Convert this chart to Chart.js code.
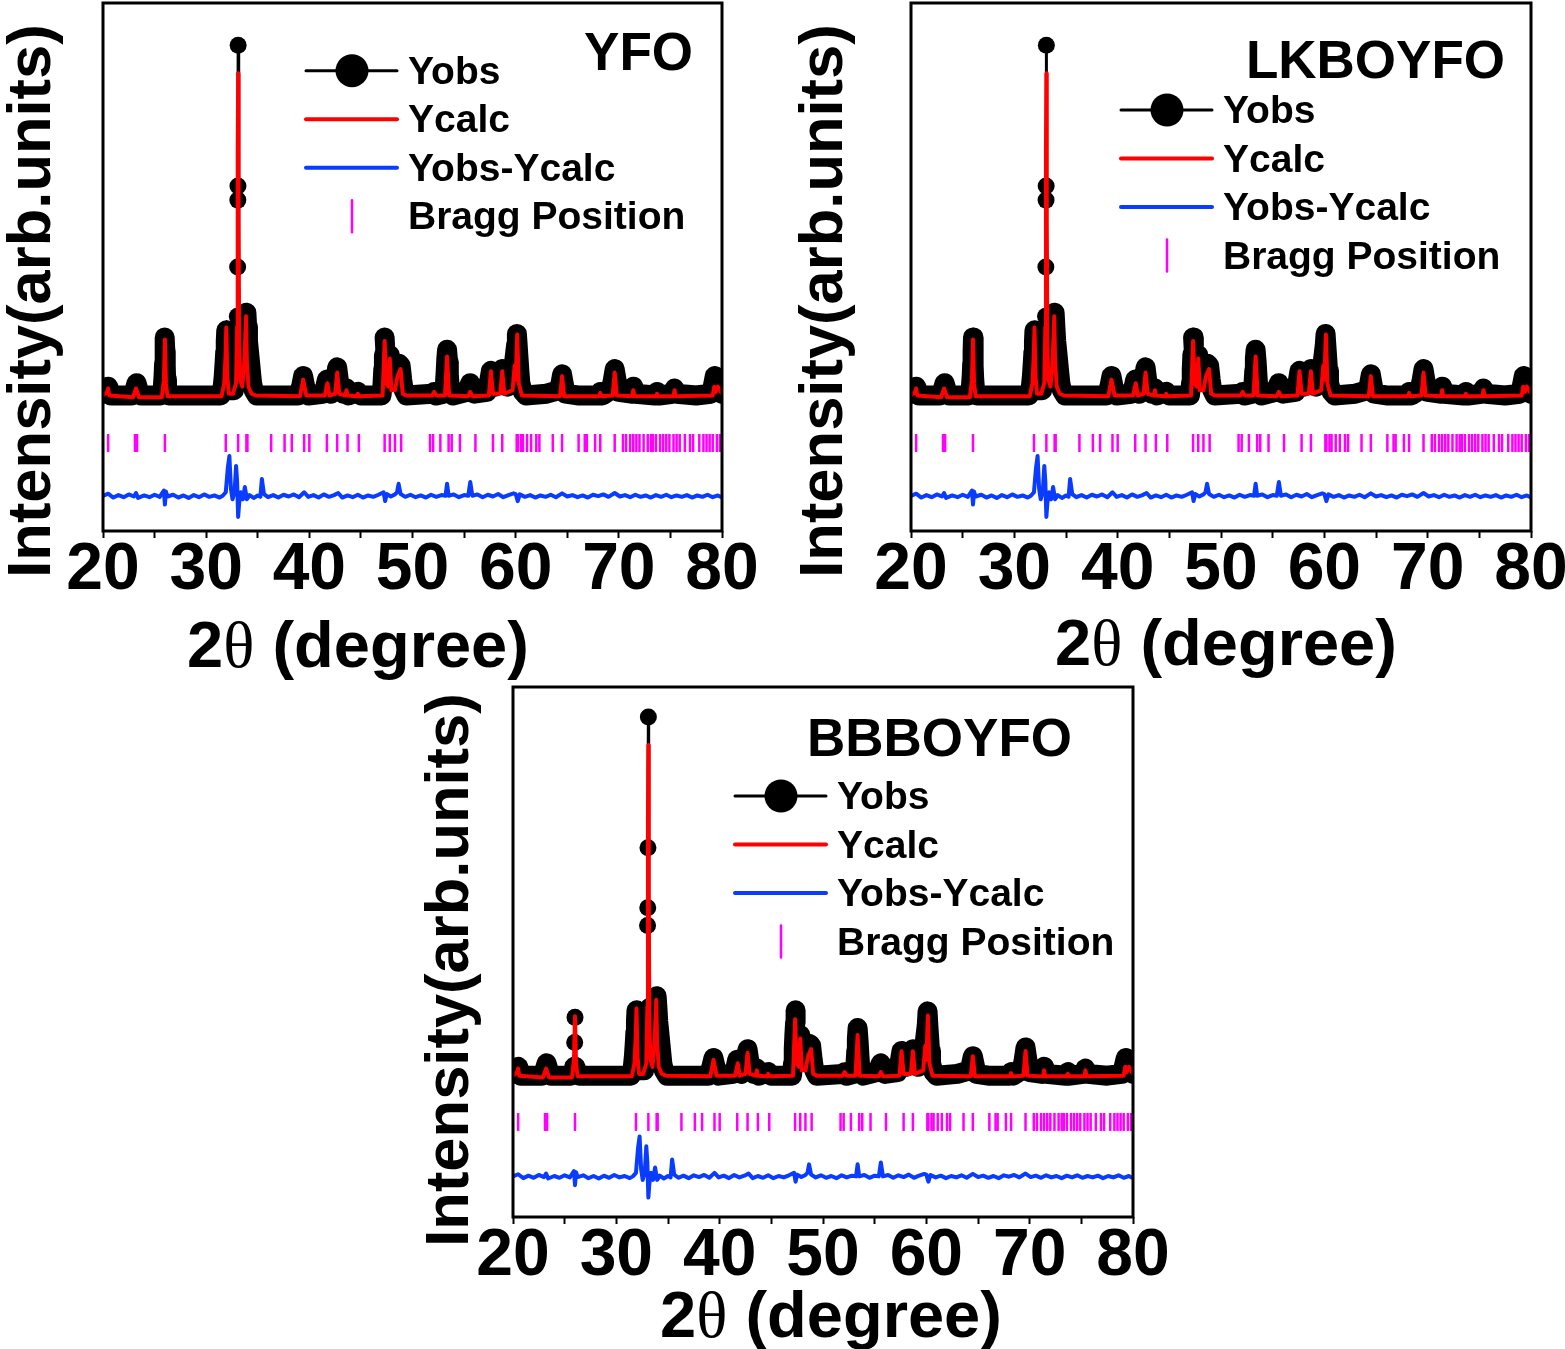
<!DOCTYPE html>
<html>
<head>
<meta charset="utf-8">
<script src="https://cdn.jsdelivr.net/npm/chart.js@4.4.1/dist/chart.umd.min.js"></script>
<style>
  body { margin: 0; background: #fff; }
  #wrap { position: relative; width: 1565px; height: 1349px; }
  #wrap canvas { position: absolute; left: 0; top: 0; }
</style>
</head>
<body>
<div id="wrap">
  <canvas id="c1" width="1565" height="1349"></canvas>
  <canvas id="c2" width="1565" height="1349"></canvas>
  <canvas id="c3" width="1565" height="1349"></canvas>
</div>
<script>
// 2theta ticks on the x axis
const xTicks = [20, 30, 40, 50, 60, 70, 80];

// YFO pattern, [2theta, intensity] (main peak = 100)
const obsYFO = [
  [20.0, 1], [20.3, 2], [20.5, 3], [20.8, 0.5], [22.8, 0.5], [23.1, 2.5], [23.25, 4], [23.5, 1.5], [23.7, 0.5],
  [25.6, 0.5], [25.8, 3], [25.87, 6], [25.92, 9.5], [25.96, 13], [26.0, 17], [26.04, 13], [26.08, 9], [26.12, 5], [26.2, 2], [26.4, 0.5],
  [31.4, 0.5], [31.6, 3], [31.7, 6], [31.78, 9.5], [31.85, 13], [31.9, 16], [31.95, 19], [32.0, 15], [32.05, 11], [32.1, 7], [32.2, 3], [32.4, 2],
  [32.7, 2], [32.8, 5], [32.86, 9], [32.92, 12.5], [32.98, 16], [33.02, 23], [33.05, 37], [33.07, 56], [33.08, 60], [33.1, 100],
  [33.13, 20], [33.18, 14], [33.25, 10], [33.35, 8],
  [33.5, 11], [33.6, 14], [33.7, 17.5], [33.8, 21], [33.9, 24], [33.97, 20], [34.05, 16], [34.15, 13], [34.25, 10], [34.35, 7], [34.45, 4], [34.6, 2], [34.9, 0.5],
  [38.9, 0.5], [39.2, 3], [39.4, 6], [39.6, 3], [39.9, 0.5],
  [41.3, 1], [41.55, 3], [41.7, 5], [41.85, 2.5], [42.1, 1], [42.4, 2.5], [42.55, 5], [42.7, 8.5], [42.85, 5], [43.0, 2], [43.3, 1], [43.6, 2.5], [43.8, 0.5], [44.7, 1.5], [45.0, 0.5],
  [47.0, 0.5], [47.1, 4], [47.17, 8], [47.23, 12], [47.3, 17], [47.37, 13], [47.45, 9], [47.55, 6], [47.7, 9], [47.8, 12], [47.9, 8], [48.0, 5],
  [48.3, 5], [48.5, 7], [48.7, 9.5], [48.85, 9], [49.0, 5], [49.15, 2], [49.4, 0.5],
  [51.9, 1], [52.1, 1.5], [52.3, 0.5],
  [53.0, 1], [53.15, 4], [53.22, 7.5], [53.28, 11], [53.35, 13.5], [53.45, 10], [53.52, 6.5], [53.6, 3], [53.9, 0.5],
  [55.2, 1.5], [55.45, 3], [55.6, 4], [55.75, 3], [56.0, 1],
  [57.2, 1.5], [57.4, 4], [57.6, 7.5], [57.8, 4.5], [58.0, 3], [58.3, 4], [58.5, 5.5], [58.7, 8], [58.9, 4.5], [59.2, 3],
  [59.5, 4.5], [59.7, 7], [59.85, 10], [59.95, 12.5], [60.05, 15], [60.12, 18], [60.2, 14.5], [60.28, 11], [60.36, 7.5], [60.45, 4], [60.7, 1.5], [61.0, 0.5],
  [63.0, 1], [64.2, 2], [64.35, 4], [64.5, 6.5], [64.65, 4], [64.85, 1], [66.0, 0.5], [68.0, 0.5], [68.2, 1.5], [68.4, 0.5],
  [69.2, 2], [69.4, 4.5], [69.6, 8], [69.8, 4.5], [70.0, 1.5], [71.2, 1], [71.4, 3], [71.6, 1], [73.5, 0.5], [73.7, 1.5], [73.9, 0.5],
  [75.2, 1], [75.4, 2.5], [75.6, 1], [77.5, 0.5], [78.9, 1], [79.1, 3], [79.3, 6], [79.5, 4], [79.7, 2.5], [80.0, 1]
];
const calcYFO = [
  [20.0, 0.5], [20.4, 1.5], [20.5, 2.5], [20.6, 0.5], [22.9, 0], [23.2, 2.5], [23.5, 0],
  [25.7, 0], [25.9, 5], [26.0, 16.4], [26.1, 4], [26.25, 0.3],
  [31.5, 0.3], [31.75, 4], [31.88, 12], [31.95, 19.8], [32.05, 6], [32.2, 1], [32.6, 1],
  [32.9, 4], [33.0, 20], [33.06, 70], [33.1, 92], [33.14, 50], [33.2, 15], [33.3, 5], [33.5, 3], [33.7, 10], [33.86, 23], [33.95, 10], [34.1, 3], [34.4, 1], [34.8, 0.5],
  [39.1, 0.3], [39.4, 5], [39.7, 0.5], [41.5, 0.5], [41.75, 4], [41.95, 0.5], [42.5, 1], [42.7, 7], [42.9, 1],
  [43.5, 0.5], [43.6, 2], [43.7, 0.5], [44.6, 0.3], [44.7, 1], [44.8, 0.3],
  [47.1, 0.5], [47.3, 16], [47.45, 4], [47.65, 3], [47.8, 11], [47.95, 2], [48.3, 2], [48.55, 6], [48.85, 8], [49.05, 1], [49.4, 0.5],
  [51.9, 0.5], [52.1, 1.5], [52.3, 0.5], [53.15, 0.5], [53.35, 11.6], [53.55, 0.5],
  [55.4, 0.3], [55.6, 1.5], [55.8, 0.3], [57.4, 0.5], [57.6, 7.4], [57.8, 1], [58.5, 1], [58.7, 7.4], [58.9, 1],
  [59.7, 2], [59.9, 9], [60.0, 5], [60.15, 17.8], [60.3, 4], [60.6, 0.5],
  [64.3, 0.3], [64.5, 6], [64.7, 0.3], [68.1, 0.3], [68.2, 1.2], [68.3, 0.3], [69.4, 0.5], [69.6, 7], [69.8, 0.5],
  [71.3, 0.3], [71.4, 2], [71.5, 0.3], [73.6, 0.3], [73.7, 1], [73.8, 0.3], [75.3, 0.3], [75.4, 2], [75.5, 0.3],
  [79.1, 0.5], [79.25, 3], [79.4, 1.5], [79.6, 3], [80.0, 1]
];
const diffYFO = [
  [20.0, -28], [20.5, -27.4], [21.0, -28.5], [21.5, -27.8], [22.0, -28.4], [22.5, -27.6], [23.0, -28.2], [23.2, -27.2], [23.4, -28.6],
  [24.0, -27.9], [24.5, -28.4], [25.0, -27.7], [25.5, -28.3], [25.9, -26.5], [26.0, -30.5], [26.1, -26.8], [26.25, -28.2], [26.8, -27.7],
  [27.3, -28.5], [27.8, -27.9], [28.3, -28.6], [28.8, -27.8], [29.3, -28.4], [29.8, -27.6], [30.3, -28.3], [30.8, -27.9], [31.3, -28.5],
  [31.6, -28], [31.9, -27], [32.1, -20], [32.25, -16.7], [32.4, -26], [32.55, -29], [32.75, -27], [32.9, -19.5], [33.0, -24], [33.1, -34],
  [33.2, -30], [33.35, -27], [33.55, -29], [33.75, -25.5], [33.95, -29], [34.2, -27.8], [34.6, -28.6], [35.0, -27.9], [35.25, -28.3],
  [35.4, -23.2], [35.6, -27.5], [36.0, -28.4], [36.5, -27.8], [37.0, -28.5], [37.5, -27.7], [38.0, -28.2], [38.5, -27.6], [39.0, -28.4],
  [39.5, -27], [39.9, -28.3], [40.4, -27.8], [40.9, -28.5], [41.4, -27.6], [41.9, -28.3], [42.4, -27.8], [42.8, -27.2], [43.2, -28.5],
  [43.7, -27.9], [44.2, -28.4], [44.7, -27.7], [45.2, -28.5], [45.7, -27.9], [46.2, -28.3], [46.7, -27.7], [47.2, -27], [47.35, -29.5],
  [47.5, -27.5], [47.9, -28.2], [48.3, -27.6], [48.5, -27], [48.65, -24.6], [48.85, -27.5], [49.3, -28.3], [49.8, -27.7], [50.3, -28.4],
  [50.8, -27.9], [51.3, -28.5], [51.8, -27.7], [52.3, -28.3], [52.8, -27.8], [53.2, -28], [53.35, -24.6], [53.5, -28], [54.0, -27.6],
  [54.5, -28.4], [55.0, -27.8], [55.4, -28], [55.6, -24.1], [55.8, -28], [56.3, -27.6], [56.8, -28.4], [57.3, -27.7], [57.8, -28.2],
  [58.3, -27.5], [58.8, -28.4], [59.3, -27.8], [59.8, -27.3], [60.0, -27.5], [60.2, -29.5], [60.4, -27.6], [60.9, -28.3], [61.4, -27.8],
  [61.9, -28.5], [62.4, -27.9], [62.9, -28.3], [63.4, -27.7], [63.9, -28.4], [64.5, -27.3], [65.0, -28.2], [65.5, -27.8], [66.0, -28.4],
  [66.5, -27.9], [67.0, -28.5], [67.5, -27.7], [68.0, -28.1], [68.5, -27.6], [69.0, -28.3], [69.6, -27.2], [70.1, -28.2], [70.6, -27.8],
  [71.1, -28.4], [71.6, -27.7], [72.1, -28.3], [72.6, -27.9], [73.1, -28.5], [73.6, -27.8], [74.1, -28.3], [74.6, -27.7], [75.1, -28.4],
  [75.6, -27.9], [76.1, -28.3], [76.6, -27.8], [77.1, -28.5], [77.6, -27.9], [78.1, -28.3], [78.6, -27.7], [79.1, -28.4], [79.6, -27.9],
  [80.0, -28.5]
];

// LKBOYFO: the pattern in the picture is the same as YFO
const obsLKBO = obsYFO;
const calcLKBO = calcYFO;
const diffLKBO = diffYFO;

// BBBOYFO
const obsBBBO = [
  [20.0, 1], [20.3, 2], [20.5, 3], [20.8, 0.5], [22.8, 0.5], [23.1, 2.5], [23.25, 4], [23.5, 1.5], [23.7, 0.5],
  [25.6, 0.5], [25.85, 1.5], [25.93, 3], [25.97, 9.9], [26.0, 17], [26.05, 3], [26.2, 1], [26.4, 0.5],
  [31.4, 0.5], [31.6, 3], [31.7, 6], [31.78, 9.5], [31.85, 13], [31.9, 16], [31.95, 19], [32.0, 15], [32.05, 11], [32.1, 7], [32.2, 3], [32.4, 2],
  [32.7, 2], [32.8, 5], [32.86, 9], [32.92, 12.5], [32.98, 16], [33.02, 43], [33.04, 48], [33.06, 65], [33.1, 102],
  [33.13, 20], [33.18, 14], [33.25, 10], [33.35, 8],
  [33.5, 11], [33.6, 14], [33.7, 17.5], [33.8, 21], [33.9, 23], [33.97, 20], [34.05, 16], [34.15, 13], [34.25, 10], [34.35, 7], [34.45, 4], [34.6, 2], [34.9, 0.5],
  [38.9, 0.5], [39.2, 3], [39.4, 5.5], [39.6, 3], [39.9, 0.5],
  [41.3, 1], [41.55, 3], [41.7, 5], [41.85, 2.5], [42.1, 1], [42.4, 2.5], [42.55, 5], [42.7, 8], [42.85, 5], [43.0, 2], [43.3, 1], [43.6, 2.5], [43.8, 0.5], [44.7, 1.5], [45.0, 0.5],
  [47.0, 0.5], [47.1, 4], [47.17, 8], [47.23, 12], [47.3, 15.5], [47.35, 19], [47.42, 13], [47.5, 9], [47.6, 6], [47.7, 9], [47.8, 12], [47.9, 8], [48.0, 5],
  [48.3, 5], [48.5, 7], [48.7, 9.5], [48.85, 9], [49.0, 5], [49.15, 2], [49.4, 0.5],
  [51.9, 1], [52.1, 1.5], [52.3, 0.5],
  [53.0, 1], [53.15, 4], [53.22, 7.5], [53.28, 11], [53.35, 14], [53.45, 10], [53.52, 6.5], [53.6, 3], [53.9, 0.5],
  [55.2, 1.5], [55.45, 3], [55.6, 4], [55.75, 3], [56.0, 1],
  [57.2, 1.5], [57.4, 4], [57.6, 7.5], [57.8, 4.5], [58.0, 3], [58.3, 4], [58.5, 5.5], [58.7, 8], [58.9, 4.5], [59.2, 3],
  [59.5, 4.5], [59.7, 7], [59.85, 10], [59.95, 12.5], [60.05, 15], [60.12, 18.7], [60.2, 14.5], [60.28, 11], [60.36, 7.5], [60.45, 4], [60.7, 1.5], [61.0, 0.5],
  [63.0, 1], [64.2, 2], [64.35, 4], [64.5, 6], [64.65, 4], [64.85, 1], [66.0, 0.5], [68.0, 0.5], [68.2, 1.5], [68.4, 0.5],
  [69.2, 2], [69.4, 4.5], [69.6, 8.5], [69.8, 4.5], [70.0, 1.5], [71.2, 1], [71.4, 3], [71.6, 1], [73.5, 0.5], [73.7, 1.5], [73.9, 0.5],
  [75.2, 1], [75.4, 2.5], [75.6, 1], [77.5, 0.5], [78.9, 1], [79.1, 3], [79.3, 5.5], [79.5, 4], [79.7, 2.5], [80.0, 1]
];
const calcBBBO = [
  [20.0, 0.5], [20.4, 1.5], [20.5, 2.5], [20.6, 0.5], [22.9, 0], [23.2, 2.5], [23.5, 0],
  [25.7, 0], [25.9, 5], [26.0, 17.3], [26.1, 4], [26.25, 0.3],
  [31.5, 0.3], [31.75, 4], [31.88, 12], [31.95, 19.5], [32.05, 6], [32.2, 1], [32.6, 1],
  [32.9, 4], [33.0, 20], [33.06, 72], [33.1, 94], [33.14, 50], [33.2, 15], [33.3, 5], [33.5, 3], [33.7, 10], [33.86, 22], [33.95, 10], [34.1, 3], [34.4, 1], [34.8, 0.5],
  [39.1, 0.3], [39.4, 5], [39.7, 0.5], [41.5, 0.5], [41.75, 4], [41.95, 0.5], [42.5, 1], [42.7, 7], [42.9, 1],
  [43.5, 0.5], [43.6, 2], [43.7, 0.5], [44.6, 0.3], [44.7, 1], [44.8, 0.3],
  [47.1, 0.5], [47.3, 16.5], [47.45, 4], [47.65, 3], [47.8, 11], [47.95, 2], [48.3, 2], [48.55, 6], [48.85, 8], [49.05, 1], [49.4, 0.5],
  [51.9, 0.5], [52.1, 1.5], [52.3, 0.5], [53.15, 0.5], [53.35, 12], [53.55, 0.5],
  [55.4, 0.3], [55.6, 1.5], [55.8, 0.3], [57.4, 0.5], [57.6, 7.4], [57.8, 1], [58.5, 1], [58.7, 7.4], [58.9, 1],
  [59.7, 2], [59.9, 9], [60.0, 5], [60.15, 17.5], [60.3, 4], [60.6, 0.5],
  [64.3, 0.3], [64.5, 6], [64.7, 0.3], [68.1, 0.3], [68.2, 1.2], [68.3, 0.3], [69.4, 0.5], [69.6, 7.5], [69.8, 0.5],
  [71.3, 0.3], [71.4, 2], [71.5, 0.3], [73.6, 0.3], [73.7, 1], [73.8, 0.3], [75.3, 0.3], [75.4, 2], [75.5, 0.3],
  [79.1, 0.5], [79.25, 3], [79.4, 1.5], [79.6, 3], [80.0, 1]
];
const diffBBBO = diffYFO;

// Bragg reflections (same set in all three panels)
const braggPos = [
  20.5, 23.1, 23.3, 26.0, 31.9, 33.1, 33.9, 34.0, 36.3, 37.6, 38.3, 39.5, 40.0, 41.7, 42.7, 43.7, 44.8,
  47.3, 47.8, 48.3, 48.9, 51.7, 52.0, 52.7, 53.5, 53.8, 54.6, 56.1, 57.8, 58.7, 60.1, 60.2, 60.5, 60.7,
  61.1, 61.5, 62.0, 62.3, 63.6, 64.5, 66.1, 66.7, 66.9, 67.7, 68.2, 69.6, 70.4, 70.7, 71.1, 71.4, 71.7,
  72.0, 72.4, 72.8, 73.1, 73.3, 73.6, 74.0, 74.3, 74.6, 74.9, 75.3, 75.6, 75.9, 76.4, 76.9, 77.2, 77.8,
  78.2, 78.5, 78.8, 79.1, 79.5, 79.8
];

const FONT = '"Liberation Sans", Arial, sans-serif';
const W = 1565, H = 1349;

const deco = {
  id: 'deco',
  afterDraw(chart, args, o) {
    const ctx = chart.ctx, a = chart.chartArea;
    ctx.save();
    ctx.strokeStyle = '#000';
    ctx.lineWidth = 3;
    ctx.strokeRect(a.left, a.top, a.right - a.left, a.bottom - a.top);

    ctx.fillStyle = '#000';
    ctx.textBaseline = 'alphabetic';
    ctx.font = 'bold 53px ' + FONT;
    ctx.textAlign = 'right';
    ctx.fillText(o.name, o.nameRight, o.nameBase);

    // legend
    ctx.textAlign = 'left';
    ctx.font = 'bold 39px ' + FONT;
    const x0 = o.legX, len = 91, mid = x0 + 46;
    chart.data.datasets.forEach((ds, i) => {
      const y = o.legY + i * 48.5;
      ctx.lineCap = 'round';
      if (ds.kind === 'bragg') {
        ctx.strokeStyle = ds.borderColor;
        ctx.lineWidth = 2.5;
        ctx.beginPath(); ctx.moveTo(mid, y - 16); ctx.lineTo(mid, y + 16); ctx.stroke();
      } else {
        ctx.strokeStyle = ds.kind === 'obs' ? '#000' : ds.borderColor;
        ctx.lineWidth = ds.kind === 'obs' ? 3 : 4;
        ctx.beginPath(); ctx.moveTo(x0, y); ctx.lineTo(x0 + len, y); ctx.stroke();
        if (ds.kind === 'obs') {
          ctx.beginPath(); ctx.arc(mid, y, 16.5, 0, Math.PI * 2); ctx.fill();
        }
      }
      ctx.fillText(ds.label, x0 + 102, y + 13);
    });

    // y title
    ctx.save();
    ctx.translate(o.yTitleX, o.yTitleY);
    ctx.rotate(-Math.PI / 2);
    ctx.textAlign = 'center';
    ctx.font = 'bold 61.5px ' + FONT;
    ctx.fillText('Intensity(arb.units)', 0, 0);
    ctx.restore();

    // x title, theta in a serif face as in the original
    const parts = [['2', 'bold 65px ' + FONT], ['\u03B8', '65px "Liberation Serif", "Times New Roman", serif'], [' (degree)', 'bold 65px ' + FONT]];
    let total = 0;
    parts.forEach(p => { ctx.font = p[1]; total += ctx.measureText(p[0]).width; });
    let x = o.xTitleX - total / 2;
    ctx.textAlign = 'left';
    parts.forEach(p => { ctx.font = p[1]; ctx.fillText(p[0], x, o.xTitleBase); x += ctx.measureText(p[0]).width; });
    ctx.restore();
  }
};

function panel(id, p) {
  const pts = arr => arr.map(d => ({x: d[0], y: d[1]}));
  new Chart(document.getElementById(id), {
    type: 'scatter',
    data: {
      datasets: [{
        kind: 'obs',
        label: 'Yobs',
        data: pts(p.obs),
        showLine: true,
        borderColor: '#000',
        backgroundColor: '#000',
        borderCapStyle: 'round',
        borderJoinStyle: 'round',
        pointRadius: 8.5,
        pointBorderWidth: 0,
        pointBackgroundColor: '#000',
        // low, slowly varying parts of the scan merge into a thick band of dots
        segment: {
          borderWidth: c => {
            const y0 = c.p0.parsed.y, y1 = c.p1.parsed.y;
            return (Math.abs(y1 - y0) > 4.5 || Math.max(y0, y1) > 30) ? 3 : 20;
          }
        },
        clip: 0,
        order: 4
      }, {
        kind: 'calc',
        label: 'Ycalc',
        data: pts(p.calc),
        showLine: true,
        borderColor: '#ff0000',
        borderWidth: 4,
        borderJoinStyle: 'round',
        pointRadius: 0,
        order: 3
      }, {
        kind: 'diff',
        label: 'Yobs-Ycalc',
        data: pts(p.diff),
        showLine: true,
        borderColor: '#0a3cff',
        borderWidth: 4,
        borderJoinStyle: 'round',
        pointRadius: 0,
        order: 1
      }, {
        kind: 'bragg',
        label: 'Bragg Position',
        data: braggPos.map(x => ({x: x, y: p.braggY})),
        borderColor: '#ff00ff',
        pointStyle: 'line',
        rotation: 90,
        pointRadius: 9,
        pointBorderWidth: 2.5,
        order: 2
      }]
    },
    options: {
      responsive: false,
      animation: false,
      events: [],
      devicePixelRatio: 1,
      layout: { autoPadding: false, padding: { left: p.area.left, right: W - p.area.right, top: p.area.top, bottom: 0 } },
      plugins: { legend: { display: false }, tooltip: { enabled: false }, deco: p.deco },
      scales: {
        x: {
          type: 'linear',
          min: 20, max: 80,
          afterFit: s => { s.height = H - p.area.bottom; },
          grid: { drawOnChartArea: false, drawTicks: true, tickLength: 7, tickWidth: 2, tickColor: '#000' },
          border: { display: false },
          ticks: {
            stepSize: 5,
            autoSkip: false,
            maxRotation: 0,
            padding: -7,
            color: '#000',
            font: { family: FONT, size: 66, weight: 'bold' },
            callback: v => xTicks.includes(v) ? String(v) : ''
          }
        },
        y: { display: false, min: p.yMin, max: p.yMax }
      }
    },
    plugins: [deco]
  });
}

panel('c1', {
  obs: obsYFO, calc: calcYFO, diff: diffYFO, braggY: -13,
  area: { left: 103, right: 722, top: 3, bottom: 531 }, yMin: -38, yMax: 112,
  deco: { name: 'YFO', nameRight: 693, nameBase: 70, legX: 306, legY: 70.7,
          yTitleX: 50, yTitleY: 301, xTitleX: 358, xTitleBase: 667 }
});
panel('c2', {
  obs: obsLKBO, calc: calcLKBO, diff: diffLKBO, braggY: -13,
  area: { left: 911, right: 1531, top: 3, bottom: 531 }, yMin: -38, yMax: 112,
  deco: { name: 'LKBOYFO', nameRight: 1505, nameBase: 78, legX: 1121, legY: 110,
          yTitleX: 842, yTitleY: 301, xTitleX: 1226, xTitleBase: 665 }
});
panel('c3', {
  obs: obsBBBO, calc: calcBBBO, diff: diffBBBO, braggY: -12.6,
  area: { left: 513, right: 1133, top: 687, bottom: 1217 }, yMin: -39.5, yMax: 110.5,
  deco: { name: 'BBBOYFO', nameRight: 1072, nameBase: 756, legX: 735, legY: 796,
          yTitleX: 468, yTitleY: 970, xTitleX: 831, xTitleBase: 1337 }
});
</script>
</body>
</html>
